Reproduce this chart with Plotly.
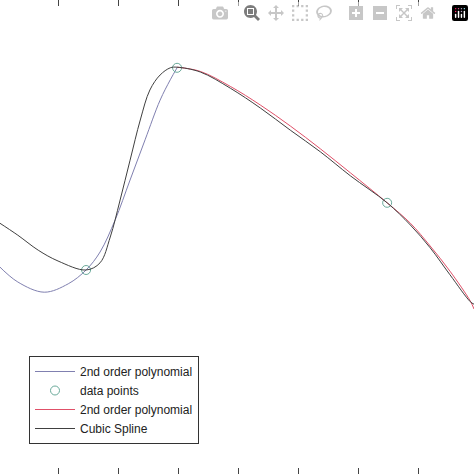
import plotly.graph_objects as go

# values (x: tick units, y: arbitrary units)
data_x = [1.467, 2.983, 6.483]
data_y = [3.40, 6.77, 4.52]

poly1_x = [0.0, 0.33, 0.77, 1.17, 1.467, 1.70, 1.95, 2.20, 2.45, 2.70, 2.87, 2.983]
poly1_y = [3.48, 3.20, 3.03, 3.17, 3.40, 3.70, 4.23, 4.90, 5.57, 6.23, 6.57, 6.77]

spline_x = [0.0, 0.33, 0.67, 1.0, 1.467, 1.70, 1.87, 2.03, 2.20, 2.37, 2.53, 2.70, 2.87, 2.983,
            3.37, 3.87, 4.37, 4.87, 5.37, 5.87, 6.483, 6.87, 7.20, 7.53, 7.87, 7.93]
spline_y = [4.20, 3.98, 3.73, 3.55, 3.40, 3.52, 3.95, 4.55, 5.23, 5.90, 6.40, 6.65, 6.77, 6.78,
            6.70, 6.43, 6.10, 5.73, 5.37, 4.97, 4.52, 4.15, 3.77, 3.32, 2.87, 2.83]

poly2_x = [2.983, 3.37, 3.87, 4.37, 4.87, 5.37, 5.87, 6.483, 6.87, 7.20, 7.53, 7.87, 7.93]
poly2_y = [6.78, 6.71, 6.46, 6.15, 5.80, 5.42, 5.02, 4.52, 4.18, 3.80, 3.38, 2.88, 2.75]

fig = go.Figure()
fig.add_trace(go.Scatter(x=poly1_x, y=poly1_y, mode="lines", name="2nd order polynomial",
                         line=dict(color="#8080b0", width=1), line_shape="spline"))
fig.add_trace(go.Scatter(x=data_x, y=data_y, mode="markers", name="data points",
                         marker=dict(symbol="circle-open", size=9, color="#6aaa9a")))
fig.add_trace(go.Scatter(x=poly2_x, y=poly2_y, mode="lines", name="2nd order polynomial",
                         line=dict(color="#e05068", width=1), line_shape="spline"))
fig.add_trace(go.Scatter(x=spline_x, y=spline_y, mode="lines", name="Cubic Spline",
                         line=dict(color="#404040", width=1), line_shape="spline"))

fig.update_layout(
    width=474, height=474,
    margin=dict(l=0, r=0, t=0, b=0),
    paper_bgcolor="white", plot_bgcolor="white",
    font=dict(family="Liberation Sans, Arial", size=12, color="#222222"),
    legend=dict(x=29 / 474, y=1 - 356 / 474, xanchor="left", yanchor="top",
                bordercolor="#333333", borderwidth=1, bgcolor="white",
                tracegroupgap=0, itemwidth=40),
)
fig.update_xaxes(range=[0.033, 7.93], tickvals=[1, 2, 3, 4, 5, 6, 7], ticks="inside",
                 ticklen=6, tickcolor="#444444", mirror="ticks", showticklabels=False,
                 showgrid=False, zeroline=False, showline=False)
fig.update_yaxes(range=[0.0, 7.9], showticklabels=False, showgrid=False,
                 zeroline=False, showline=False, ticks="")

fig.write_html("out.html", post_script="document.body.style.margin='0';")
